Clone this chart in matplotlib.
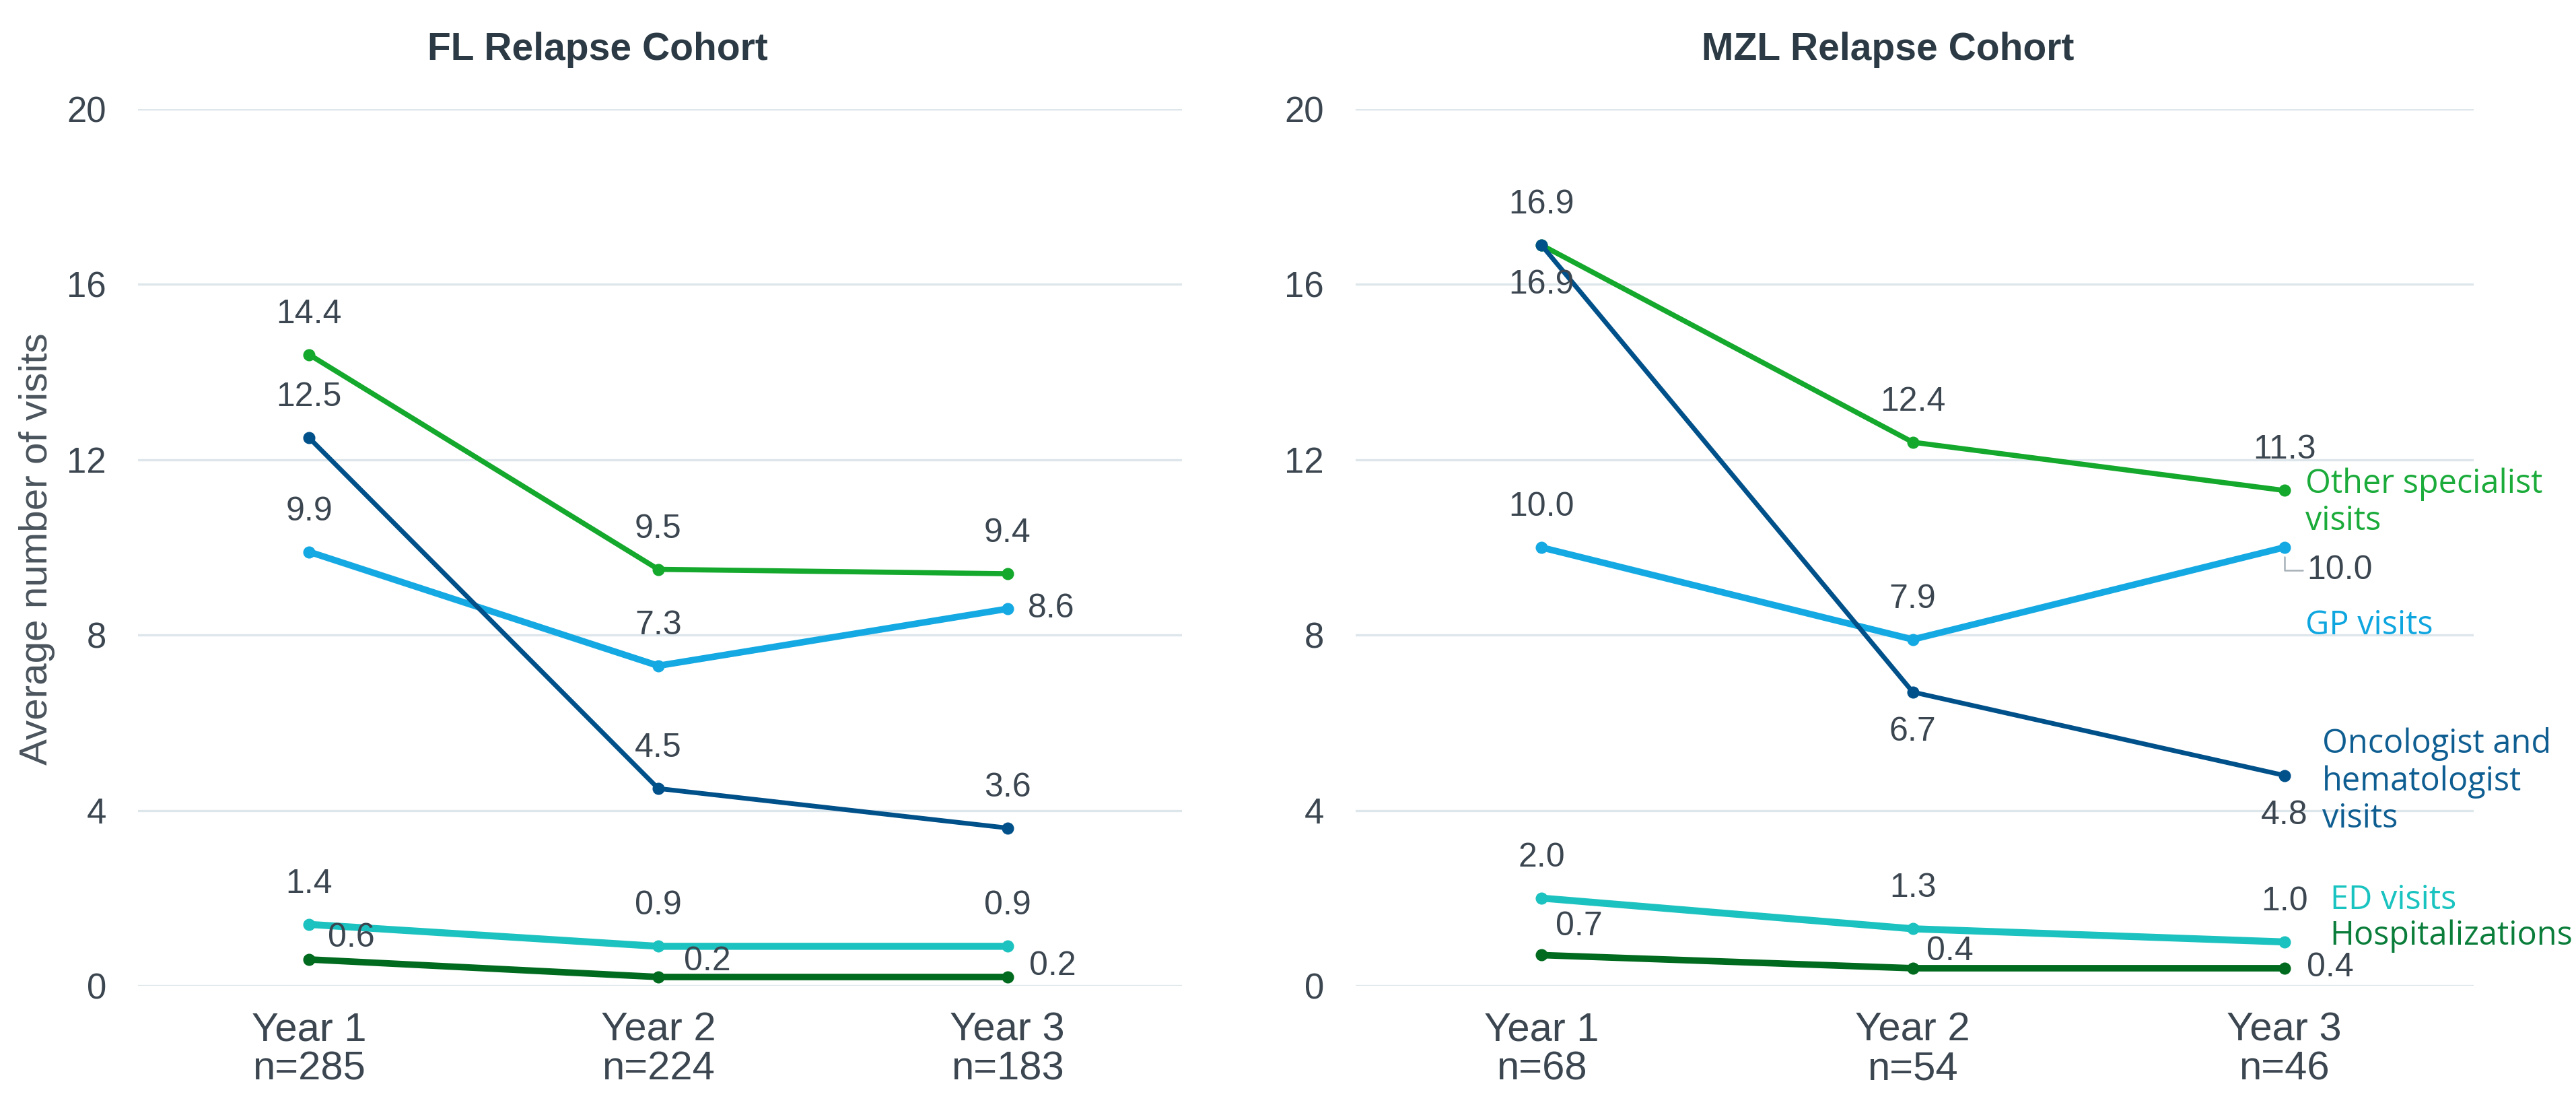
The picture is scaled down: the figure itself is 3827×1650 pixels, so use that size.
import matplotlib
matplotlib.use("Agg")
import matplotlib.pyplot as plt

# ---------------- data ----------------
years = ["Year 1", "Year 2", "Year 3"]
fl_n = ["n=285", "n=224", "n=183"]
mzl_n = ["n=68", "n=54", "n=46"]

series_names = ["Other specialist\nvisits", "GP visits",
                "Oncologist and\nhematologist\nvisits", "ED visits", "Hospitalizations"]

fl_other = [14.4, 9.5, 9.4]
fl_gp = [9.9, 7.3, 8.6]
fl_onc = [12.5, 4.5, 3.6]
fl_ed = [1.4, 0.9, 0.9]
fl_hosp = [0.6, 0.2, 0.2]

mzl_other = [16.9, 12.4, 11.3]
mzl_gp = [10.0, 7.9, 10.0]
mzl_onc = [16.9, 6.7, 4.8]
mzl_ed = [2.0, 1.3, 1.0]
mzl_hosp = [0.7, 0.4, 0.4]

yticks = [0, 4, 8, 12, 16, 20]

# ---------------- styles ----------------
line_colors = ["#14a82c", "#14a9e2", "#00508a", "#1cc2bf", "#006a1e"]
name_colors = ["#1aab3a", "#0fa6e0", "#0f5e92", "#19c3c0", "#0a7d3a"]
line_widths = [5.5, 7, 5, 7.5, 7]
txt_col = "#3b4650"
grid_col = "#dde6eb"
FONT = "Liberation Sans"

# label offsets in pixels (dx, dy up-positive, ha)
A = (0, 60, "center")
B = (0, -59, "center")
fl_offsets = [
    [A, A, A],
    [A, A, (30, 0, "left")],
    [A, A, A],
    [A, A, A],
    [(63, 32, "center"), (73, 23, "center"), (32, 16, "left")],
]
mzl_offsets = [
    [A, A, A],
    [A, A, "leader"],
    [B, B, B],
    [A, A, A],
    [(56, 42, "center"), (55, 25, "center"), (33, 1, "left")],
]
name_offsets = [(31, -18), (31, -116), (56, -9), (68, 62), (68, 48)]

W, H = 3827, 1650
fig = plt.figure(figsize=(W / 100, H / 100), dpi=100)
fig.patch.set_facecolor("white")

ax1 = fig.add_axes([205 / W, (H - 1464) / H, (1756 - 205) / W, (1464 - 162) / H])
ax2 = fig.add_axes([2014 / W, (H - 1464) / H, (3675 - 2014) / W, (1464 - 162) / H])


def setup(ax, nlabels, xlim):
    ax.set_xlim(*xlim)
    ax.set_ylim(0, 20)
    for s in ax.spines.values():
        s.set_visible(False)
    ax.set_yticks(yticks)
    ax.set_yticklabels([str(t) for t in yticks], fontsize=38, color=txt_col, family=FONT)
    ax.set_xticks(range(3))
    ax.set_xticklabels([f"{y}\n{n}" for y, n in zip(years, nlabels)],
                       fontsize=43, color=txt_col, family=FONT, linespacing=1.05)
    ax.tick_params(axis="both", length=0)
    ax.tick_params(axis="y", pad=34)
    ax.tick_params(axis="x", pad=28)
    ax.grid(axis="y", color=grid_col, lw=2.4)
    ax.set_axisbelow(True)


setup(ax1, fl_n, (-0.49, 2.5))
setup(ax2, mzl_n, (-0.5, 2.51))


def draw(ax, data, offsets, names=False):
    x = list(range(3))
    for k, vals in enumerate(data):
        ax.plot(x, vals, color=line_colors[k], lw=line_widths[k], marker="o",
                markersize=12, solid_capstyle="round", clip_on=False, zorder=3 + (k == 2))
        for i, v in enumerate(vals):
            off = offsets[k][i]
            if off == "leader":
                ax.annotate(f"{v:.1f}", (i, v), xytext=(34, -34), textcoords="offset pixels",
                            ha="left", va="center", fontsize=36, color=txt_col, family=FONT,
                            arrowprops=dict(arrowstyle="-", color="#a7b1b8", lw=1.8,
                                            connectionstyle="angle,angleA=0,angleB=90,rad=0",
                                            relpos=(0, 0.5), shrinkA=3, shrinkB=10))
                continue
            dx, dy, ha = off
            ax.annotate(f"{v:.1f}", (i, v), xytext=(dx, dy), textcoords="offset pixels",
                        ha=ha, va="center", fontsize=36, color=txt_col, family=FONT, zorder=6)
        if names:
            dx, dy = name_offsets[k]
            ax.annotate(series_names[k], (2, vals[2]), xytext=(dx, dy),
                        textcoords="offset pixels", ha="left", va="center",
                        fontsize=35, color=name_colors[k], family="Open Sans",
                        linespacing=1.15, annotation_clip=False)


draw(ax1, [fl_other, fl_gp, fl_onc, fl_ed, fl_hosp], fl_offsets)
draw(ax2, [mzl_other, mzl_gp, mzl_onc, mzl_ed, mzl_hosp], mzl_offsets, names=True)

fig.text(888 / W, (H - 74) / H, "FL Relapse Cohort", ha="center", va="center",
         fontsize=41, fontweight="bold", color="#2b3a44", family=FONT)
fig.text(2805 / W, (H - 74) / H, "MZL Relapse Cohort", ha="center", va="center",
         fontsize=41, fontweight="bold", color="#2b3a44", family=FONT)
fig.text(55 / W, (H - 815) / H, "Average number of visits", rotation=90,
         ha="center", va="center", fontsize=42, color="#4a545c", family=FONT)

fig.savefig("out.png", dpi=100, facecolor="white")
